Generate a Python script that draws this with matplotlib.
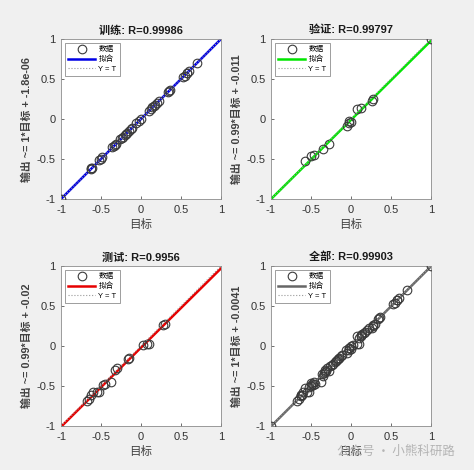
import matplotlib
matplotlib.use("Agg")
import matplotlib.pyplot as plt
import numpy as np

plt.rcParams['font.family'] = ['Liberation Sans', 'Noto Sans CJK SC', 'DejaVu Sans']

# Training set (target, output)
train_t = [-1.0, -0.63, -0.62, -0.61, -0.52, -0.50, -0.49, -0.36, -0.34, -0.33, -0.31,
           -0.26, -0.24, -0.22, -0.20, -0.19, -0.17, -0.15, -0.13, -0.11, -0.06, -0.03, 0.0,
           0.10, 0.13, 0.14, 0.16, 0.18, 0.20, 0.23, 0.34, 0.35, 0.36,
           0.53, 0.55, 0.57, 0.58, 0.60, 0.70]
train_y = [-1.0, -0.62, -0.61, -0.61, -0.51, -0.50, -0.48, -0.35, -0.34, -0.33, -0.31,
           -0.25, -0.24, -0.22, -0.20, -0.19, -0.17, -0.15, -0.12, -0.11, -0.05, -0.03, 0.0,
           0.10, 0.13, 0.15, 0.16, 0.18, 0.20, 0.23, 0.34, 0.35, 0.36,
           0.53, 0.54, 0.57, 0.58, 0.60, 0.70]

# Validation set
val_t = [-0.57, -0.50, -0.46, -0.35, -0.28, -0.05, -0.03, -0.02, 0.0, 0.08, 0.12, 0.26, 0.28, 1.0]
val_y = [-0.53, -0.46, -0.45, -0.38, -0.31, -0.09, -0.05, -0.03, -0.04, 0.12, 0.14, 0.22, 0.25, 1.0]

# Test set
test_t = [-0.67, -0.65, -0.62, -0.60, -0.55, -0.53, -0.47, -0.45, -0.38, -0.33, -0.30,
          -0.16, -0.15, 0.02, 0.08, 0.10, 0.28, 0.30]
test_y = [-0.69, -0.66, -0.61, -0.57, -0.57, -0.58, -0.49, -0.48, -0.45, -0.30, -0.28,
          -0.16, -0.15, 0.01, 0.03, 0.03, 0.26, 0.28]

all_t = train_t + val_t + test_t
all_y = train_y + val_y + test_y

titles = ['训练: R=0.99986', '验证: R=0.99797', '测试: R=0.9956', '全部: R=0.99903']
ylabels = ['输出 ~= 1*目标 + -1.8e-06', '输出 ~= 0.99*目标 + -0.011',
           '输出 ~= 0.99*目标 + -0.02', '输出 ~= 1*目标 + -0.0041']
slopes = [1.0, 0.99, 0.99, 1.0]
intercepts = [-1.8e-06, -0.011, -0.02, -0.0041]
colors = ['#0000e6', '#00e600', '#e60000', '#666666']
datasets = [(train_t, train_y), (val_t, val_y), (test_t, test_y), (all_t, all_y)]

W, H = 474, 470
fig = plt.figure(figsize=(W / 100, H / 100), dpi=100, facecolor='#f0f0f0')

# axes boxes in pixels: left, top, right, bottom
boxes = [(61, 39, 221, 199), (271, 39, 431, 199), (61, 266, 221, 426), (271, 266, 431, 426)]

for i in range(4):
    l, t, r, b = boxes[i]
    ax = fig.add_axes([l / W, 1 - b / H, (r - l) / W, (b - t) / H])
    tt, yy = datasets[i]
    xs = np.array([-1, 1])
    ax.plot(tt, yy, 'o', mfc='none', mec='#3a3a3a', ms=6.2, mew=0.8, label='数据', zorder=3)
    ax.plot(xs, slopes[i] * xs + intercepts[i], '-', color=colors[i], lw=1.8, label='拟合', zorder=2)
    ax.plot(xs, xs, ':', color='#999999', lw=0.8, label='Y = T', zorder=4)
    ax.set_xlim(-1, 1)
    ax.set_ylim(-1, 1)
    ax.set_xticks([-1, -0.5, 0, 0.5, 1])
    ax.set_yticks([-1, -0.5, 0, 0.5, 1])
    ax.set_xticklabels(['-1', '-0.5', '0', '0.5', '1'])
    ax.set_yticklabels(['-1', '-0.5', '0', '0.5', '1'])
    ax.tick_params(direction='in', length=2.5, width=0.5, labelsize=8, colors='#333333', pad=4)
    for s in ax.spines.values():
        s.set_color('#8c8c8c')
        s.set_linewidth(0.6)
    ax.set_title(titles[i], fontsize=8, fontweight='bold', color='#1a1a1a', pad=4)
    ax.set_ylabel(ylabels[i], fontsize=7.8, fontweight='bold', color='#404040', labelpad=3)
    ax.set_xlabel('目标', fontsize=8.3, color='#404040', labelpad=3)
    leg = ax.legend(loc='upper left', fontsize=5.5, frameon=True, fancybox=False,
                    edgecolor='#555555', borderpad=0.4, labelspacing=0.3,
                    handlelength=3.6, handletextpad=0.4, borderaxespad=0.5)
    leg.get_frame().set_linewidth(0.5)

fig.text(0.71, 0.04, '公众号 · 小熊科研路', fontsize=9, color='#b4b4b4',
         family=['Noto Sans CJK SC', 'DejaVu Sans'], ha='left', va='center')

fig.savefig('out.png', dpi=100, facecolor=fig.get_facecolor())
